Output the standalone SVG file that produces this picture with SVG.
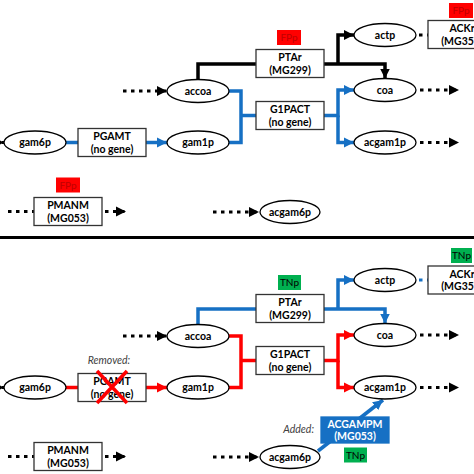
<svg xmlns="http://www.w3.org/2000/svg" width="474" height="474" viewBox="0 0 474 474">
<style>
  .bg{fill:#ffffff}
  .met ellipse{fill:#ffffff;stroke:#000000;stroke-width:1.3}
  .rxn rect{fill:#ffffff;stroke:#333333;stroke-width:1.3}
  text{font-family:Lato,"Liberation Sans",sans-serif;font-size:10.5px;font-weight:bold;text-anchor:middle;fill:#000000}
  .tag text{font-weight:normal;font-size:10px}
  .fp rect{fill:#ff0000}
  .fp text{fill:#c00000}
  .tn rect{fill:#00b050}
  .note{font-weight:normal;font-style:italic;fill:#404040}
  .c{fill:none;stroke-width:3.5;stroke-linejoin:miter}
  .k{stroke:#000000}
  .b{stroke:#1670c4}
  .r{stroke:#ff0000}
  .d{fill:none;stroke-width:3.2;stroke-dasharray:3.5 4.5}
  .added rect{fill:#1670c4;stroke:#1670c4}
  .added text{fill:#ffffff}
</style>
<defs>
  <marker id="ak" viewBox="0 0 10 10" refX="10" refY="5" markerUnits="userSpaceOnUse" markerWidth="10" markerHeight="11" orient="auto"><path d="M0,0 L10,5 L0,10 z" fill="#000000"/></marker>
  <marker id="ab" viewBox="0 0 10 10" refX="10" refY="5" markerUnits="userSpaceOnUse" markerWidth="10" markerHeight="11" orient="auto"><path d="M0,0 L10,5 L0,10 z" fill="#1670c4"/></marker>
  <marker id="ar" viewBox="0 0 10 10" refX="10" refY="5" markerUnits="userSpaceOnUse" markerWidth="10" markerHeight="11" orient="auto"><path d="M0,0 L10,5 L0,10 z" fill="#ff0000"/></marker>
</defs>
<rect class="bg" x="0" y="0" width="474" height="474"/>

<!-- connectors -->
<g id="connectors">
  <!-- top panel -->
  <path class="c k" d="M198,79.5 V64 H256"/>
  <path class="c k" d="M324,64 H385 V78.5" marker-end="url(#ak)"/>
  <path class="c k" d="M338,64 V35 H354" marker-end="url(#ak)"/>
  <path class="c b" d="M229,91 H241 V142.5 H229"/>
  <path class="c b" d="M241,115.5 H256"/>
  <path class="c b" d="M324,115.5 H338 V90 H354" marker-end="url(#ab)"/>
  <path class="c b" d="M338,115.5 V142.5 H354" marker-end="url(#ab)"/>
  <path class="c b" d="M66,142.5 H78"/>
  <path class="c b" d="M146,142.5 H167" marker-end="url(#ab)"/>
  <path class="d k" d="M123,91 H167" marker-end="url(#ak)"/>
  <path class="d k" d="M-30,142.5 H4" marker-end="url(#ak)"/>
  <path class="d k" d="M420,90 H459" marker-end="url(#ak)"/>
  <path class="d k" d="M420,142.5 H459" marker-end="url(#ak)"/>
  <path class="d k" d="M8,211.5 H34"/>
  <path class="d k" d="M105,211.5 H126" marker-end="url(#ak)"/>
  <path class="d k" d="M213,212 H259" marker-end="url(#ak)"/>
  <path class="d k" d="M419,35 H428"/>
  <!-- bottom panel -->
  <path class="c b" d="M198,324.5 V309 H256"/>
  <path class="c b" d="M324,309 H385 V323.5" marker-end="url(#ab)"/>
  <path class="c b" d="M338,309 V280 H354" marker-end="url(#ab)"/>
  <path class="c r" d="M229,336 H241 V387.5 H229"/>
  <path class="c r" d="M241,360.5 H256"/>
  <path class="c r" d="M324,360.5 H338 V335 H354" marker-end="url(#ar)"/>
  <path class="c r" d="M338,360.5 V387.5 H354" marker-end="url(#ar)"/>
  <path class="c r" d="M66,387.5 H78"/>
  <path class="c r" d="M146,387.5 H167" marker-end="url(#ar)"/>
  <path class="d k" d="M123,336 H167" marker-end="url(#ak)"/>
  <path class="d k" d="M-30,387.5 H4" marker-end="url(#ak)"/>
  <path class="d k" d="M420,335 H459" marker-end="url(#ak)"/>
  <path class="d k" d="M420,387.5 H459" marker-end="url(#ak)"/>
  <path class="d k" d="M8,456.5 H34"/>
  <path class="d k" d="M105,456.5 H126" marker-end="url(#ak)"/>
  <path class="d k" d="M213,457 H259" marker-end="url(#ak)"/>
  <path class="d b" d="M419,280 H428"/>
  <path class="c b" d="M318,451 L383,400" marker-end="url(#ab)"/>
</g>

<!-- separator -->
<line x1="0" y1="237.5" x2="474" y2="237.5" stroke="#000000" stroke-width="3"/>

<!-- top panel nodes -->
<g id="top-accoa" class="met"><ellipse cx="198" cy="91" rx="31" ry="11.5"/><text x="198" y="94.5">accoa</text></g>
<g id="top-gam6p" class="met"><ellipse cx="35" cy="142.5" rx="31" ry="11.5"/><text x="35" y="146">gam6p</text></g>
<g id="top-gam1p" class="met"><ellipse cx="198" cy="142.5" rx="31" ry="11.5"/><text x="198" y="146">gam1p</text></g>
<g id="top-actp" class="met"><ellipse cx="385" cy="35" rx="31" ry="11.5"/><text x="385" y="38.5">actp</text></g>
<g id="top-coa" class="met"><ellipse cx="385" cy="90" rx="31" ry="11.5"/><text x="385" y="93.5">coa</text></g>
<g id="top-acgam1p" class="met"><ellipse cx="385" cy="142.5" rx="31" ry="11.5"/><text x="385" y="146">acgam1p</text></g>
<g id="top-acgam6p" class="met"><ellipse cx="290" cy="212" rx="30" ry="11.5"/><text x="290" y="215.5">acgam6p</text></g>

<g id="top-PGAMT" class="rxn"><rect x="78" y="128.5" width="68" height="28"/><text x="112" y="140">PGAMT</text><text x="112" y="152.5">(no gene)</text></g>
<g id="top-PTAr" class="rxn"><rect x="256" y="49.5" width="68" height="28"/><text x="290" y="61">PTAr</text><text x="290" y="73.5">(MG299)</text></g>
<g id="top-G1PACT" class="rxn"><rect x="256" y="101.5" width="68" height="28"/><text x="290" y="113">G1PACT</text><text x="290" y="125.5">(no gene)</text></g>
<g id="top-ACKr" class="rxn"><rect x="428" y="20.5" width="68" height="28"/><text x="462" y="32">ACKr</text><text x="462" y="44.5">(MG357)</text></g>
<g id="top-PMANM" class="rxn"><rect x="34" y="197.5" width="68" height="28"/><text x="68" y="209">PMANM</text><text x="68" y="221.5">(MG053)</text></g>

<g id="top-tag-PTAr" class="tag fp"><rect x="277" y="30" width="24" height="15"/><text x="289" y="41">FPp</text></g>
<g id="top-tag-ACKr" class="tag fp"><rect x="449" y="3" width="24" height="15"/><text x="461" y="14">FPp</text></g>
<g id="top-tag-PMANM" class="tag fp"><rect x="56" y="177.5" width="24" height="15"/><text x="68" y="188.5">FPp</text></g>

<!-- bottom panel nodes -->
<g id="bot-accoa" class="met"><ellipse cx="198" cy="336" rx="31" ry="11.5"/><text x="198" y="339.5">accoa</text></g>
<g id="bot-gam6p" class="met"><ellipse cx="35" cy="387.5" rx="31" ry="11.5"/><text x="35" y="391">gam6p</text></g>
<g id="bot-gam1p" class="met"><ellipse cx="198" cy="387.5" rx="31" ry="11.5"/><text x="198" y="391">gam1p</text></g>
<g id="bot-actp" class="met"><ellipse cx="385" cy="280" rx="31" ry="11.5"/><text x="385" y="283.5">actp</text></g>
<g id="bot-coa" class="met"><ellipse cx="385" cy="335" rx="31" ry="11.5"/><text x="385" y="338.5">coa</text></g>
<g id="bot-acgam1p" class="met"><ellipse cx="385" cy="387.5" rx="31" ry="11.5"/><text x="385" y="391">acgam1p</text></g>
<g id="bot-acgam6p" class="met"><ellipse cx="290" cy="457" rx="30" ry="11.5"/><text x="290" y="460.5">acgam6p</text></g>

<g id="bot-PGAMT" class="rxn"><rect x="78" y="373.5" width="68" height="28"/><text x="112" y="385">PGAMT</text><text x="112" y="397.5">(no gene)</text>
  <path d="M97,371 L127,403 M127,371 L97,403" stroke="#ff0000" stroke-width="3.5" fill="none"/></g>
<g id="bot-PTAr" class="rxn"><rect x="256" y="294.5" width="68" height="28"/><text x="290" y="306">PTAr</text><text x="290" y="318.5">(MG299)</text></g>
<g id="bot-G1PACT" class="rxn"><rect x="256" y="346.5" width="68" height="28"/><text x="290" y="358">G1PACT</text><text x="290" y="370.5">(no gene)</text></g>
<g id="bot-ACKr" class="rxn"><rect x="428" y="266" width="68" height="28"/><text x="462" y="277.5">ACKr</text><text x="462" y="290">(MG357)</text></g>
<g id="bot-PMANM" class="rxn"><rect x="34" y="442.5" width="68" height="28"/><text x="68" y="454">PMANM</text><text x="68" y="466.5">(MG053)</text></g>
<g id="bot-ACGAMPM" class="rxn added"><rect x="321" y="417" width="68" height="26"/><text x="355" y="428">ACGAMPM</text><text x="355" y="440">(MG053)</text></g>

<g id="bot-tag-PTAr" class="tag tn"><rect x="278" y="275" width="23" height="15"/><text x="289.5" y="286">TNp</text></g>
<g id="bot-tag-ACKr" class="tag tn"><rect x="451" y="248" width="21" height="15"/><text x="461.5" y="259">TNp</text></g>
<g id="bot-tag-ACGAMPM" class="tag tn"><rect x="344" y="447.5" width="23" height="15"/><text x="355.5" y="458.5">TNp</text></g>

<text class="note" x="109" y="363.5">Removed:</text>
<text class="note" x="314" y="433" style="text-anchor:end">Added:</text>
</svg>
